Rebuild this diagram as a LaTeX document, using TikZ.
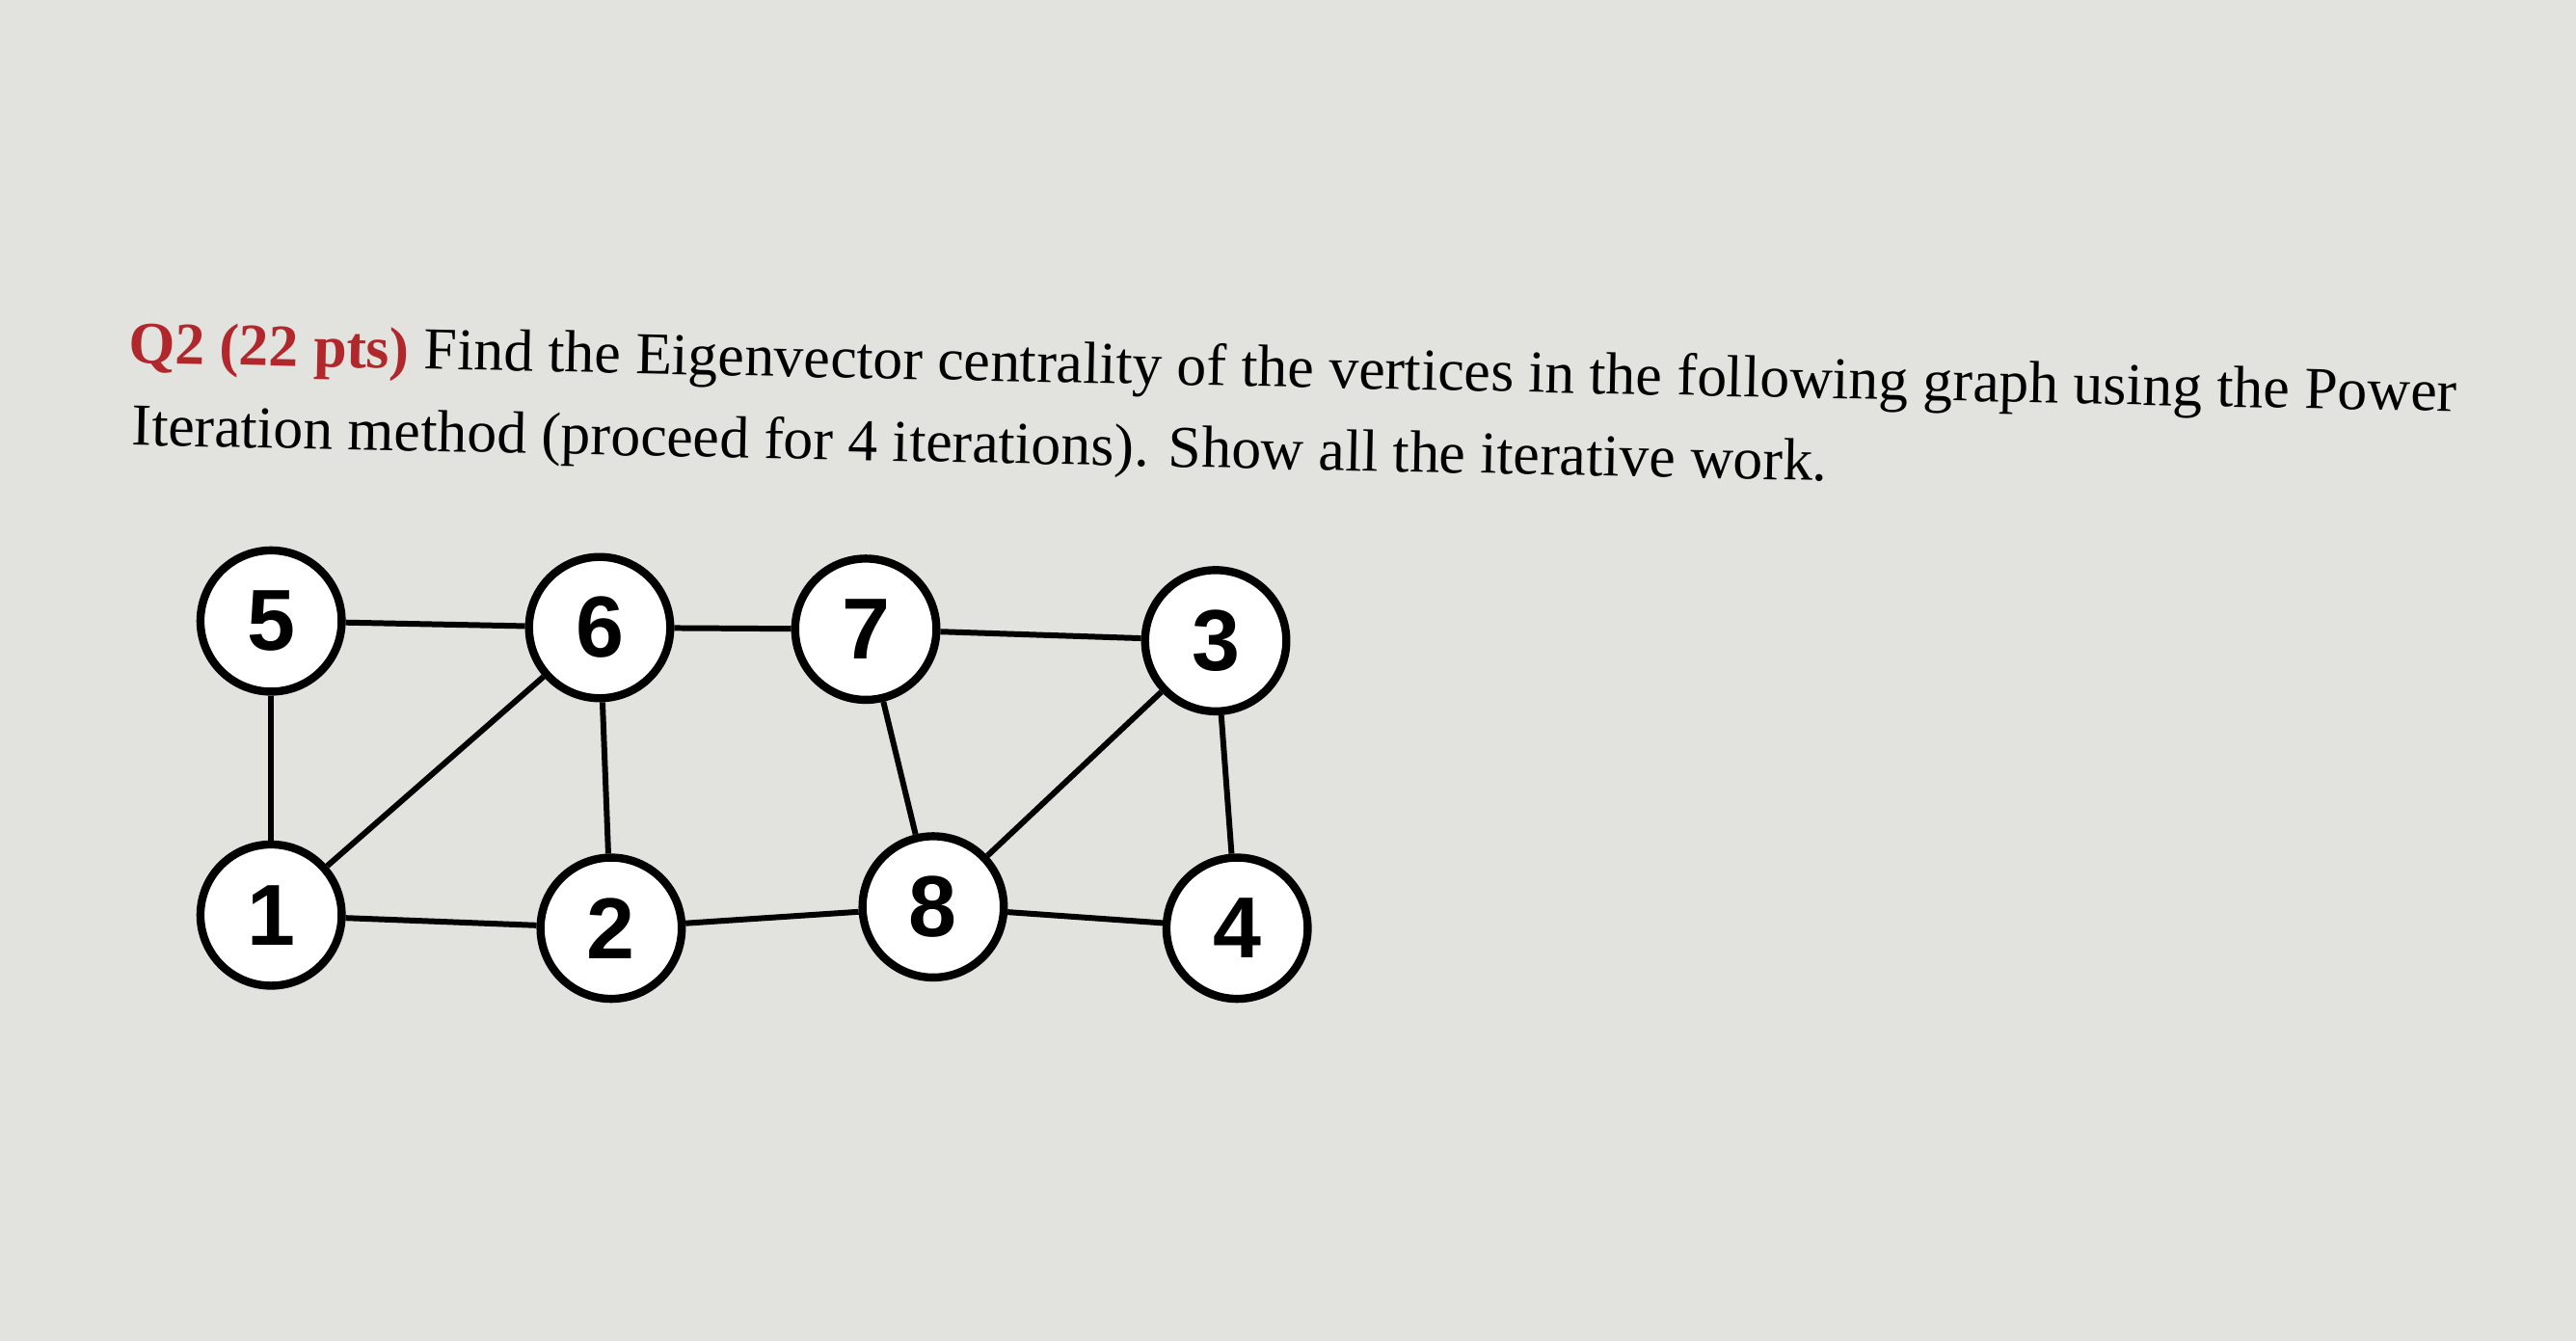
\documentclass[tikz,border=0pt]{standalone}
\usepackage{fontspec}
\setmainfont{Liberation Serif}
\newfontfamily\numfont{Liberation Sans}
\definecolor{paper}{HTML}{E2E2DE}
\definecolor{qred}{HTML}{B0282C}
\begin{document}
\begin{tikzpicture}[x=0.02cm,y=-0.02cm,
  vtx/.style={circle,draw,line width=2.8pt,minimum size=1.72cm,inner sep=0pt,fill=white,font=\numfont\bfseries\fontsize{30}{30}\selectfont},
  edge/.style={line width=2pt},
  txt/.style={anchor=west,inner sep=0pt,font=\fontsize{20.6}{23}\selectfont,rotate=-1.2}]
\fill[paper] (0,0) rectangle (1568,816);
\useasboundingbox (0,0) rectangle (1568,816);
\node[txt] (l1) at (78,212) {\textcolor{qred}{\textbf{Q2 (22 pts)}} Find the Eigenvector centrality of the vertices in the following graph using the Power};
\node[txt] (l2) at (80,262) {Iteration method (proceed for 4 iterations). Show all the iterative work.};
\node[vtx] (n5) at (165,378) {5};
\node[vtx] (n6) at (365,382) {6};
\node[vtx] (n7) at (527,383) {7};
\node[vtx] (n3) at (740,390) {3};
\node[vtx] (n1) at (165,557) {1};
\node[vtx] (n2) at (372,565) {2};
\node[vtx] (n8) at (568,552) {8};
\node[vtx] (n4) at (753,565) {4};
\foreach \a/\b in {n5/n6,n6/n7,n7/n3,n5/n1,n6/n1,n6/n2,n7/n8,n8/n3,n3/n4,n1/n2,n2/n8,n8/n4}
  \draw[edge] (\a) -- (\b);
\end{tikzpicture}
\end{document}
